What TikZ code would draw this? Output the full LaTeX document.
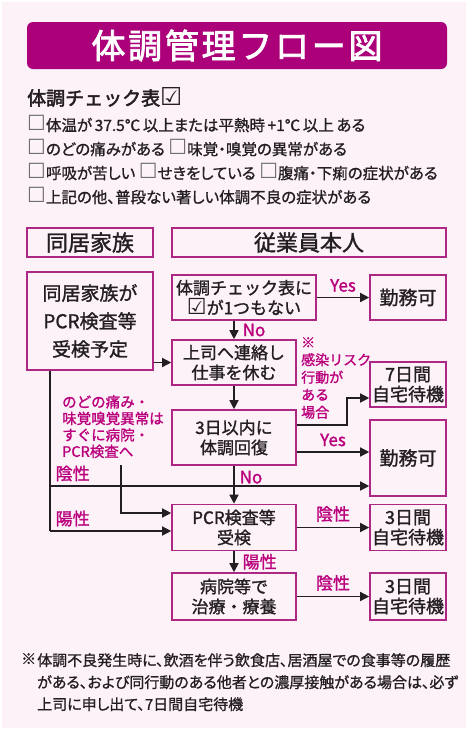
\documentclass[tikz,border=0pt]{standalone}
\usepackage{fontspec}
\setmainfont{Noto Sans CJK JP}[FakeBold=1.3]
\newfontfamily\heavyfont{Noto Sans CJK JP}[FakeBold=2.4]
\newfontfamily\propfont{Noto Sans CJK JP}[FakeBold=1.0, RawFeature=+palt]
\newfontfamily\symfont{DejaVu Sans}
\usetikzlibrary{arrows.meta, positioning, calc}
\definecolor{myplum}{RGB}{172,0,122}
\definecolor{myedge}{RGB}{172,40,132}
\definecolor{mylabel}{RGB}{186,0,124}
\definecolor{mydark}{RGB}{35,30,35}
\definecolor{mybg}{RGB}{252,242,248}
\definecolor{mygrey}{RGB}{110,110,110}
\newcommand{\fs}[2]{\fontsize{#1}{#2}\selectfont}
\newcommand{\chk}{{\symfont\fontsize{1.3em}{1em}\selectfont\char"2611}}
\newcommand{\cbx}{{\color{mygrey}\symfont\fontsize{1.35em}{1em}\selectfont\char"2610}}
\tikzset{
  flowbox/.style={rectangle, draw=myedge, line width=1.6pt, inner sep=0pt,
    align=center, text=mydark},
  hdrbox/.style={flowbox, minimum height=29pt, font=\fs{22}{26}},
  stepbox/.style={flowbox, minimum width=124pt, minimum height=46pt, font=\fs{17}{20}},
  endbox/.style={flowbox, minimum width=76pt, minimum height=46pt, font=\fs{18}{20}},
  note/.style={text=mylabel, align=left, inner sep=0pt, font=\fs{14}{17.5}},
  lbl/.style={text=mylabel, inner sep=0pt, font=\fs{17}{20}},
  listitem/.style={anchor=west, inner sep=0pt, text=mydark, font=\propfont\fs{15.5}{18}},
  arrow/.style={-{Triangle[length=9pt,width=9pt]}, line width=1.4pt, color=mydark},
  line/.style={line width=1.4pt, color=mydark}
}

\begin{document}
\begin{tikzpicture}[x=1pt, y=-1pt]
  \useasboundingbox (0,0) rectangle (474,732);
  \fill[white] (0,0) rectangle (474,732);
  \fill[mybg] (2,2) rectangle (466,728);

  % Title and check list
  \node[fill=myplum, rounded corners=6pt, minimum width=420pt, minimum height=47pt,
    text=white, font=\heavyfont\fs{34}{40}\addfontfeatures{LetterSpace=8}] (title) at (237,45.5) {体調管理フロー図};
  \node[anchor=west, inner sep=0pt, font=\heavyfont\fs{19}{22}, text=mydark] (chkhead) at (27,97) {体調チェック表\chk};
  \node[listitem] (item1) at (27,124) {\cbx 体温が\,37.5℃\,以上または平熱時\,+1℃\,以上\,ある};
  \node[listitem] (item2) at (27,148) {\cbx のどの痛みがある \cbx 味覚・嗅覚の異常がある};
  \node[listitem] (item3) at (27,172) {\cbx 呼吸が苦しい \cbx せきをしている \cbx 腹痛・下痢の症状がある};
  \node[listitem] (item4) at (27,196) {\cbx 上記の他、普段ない著しい体調不良の症状がある};

  % Headers
  \node[hdrbox, minimum width=126pt] (famhdr) at (90,242.5) {同居家族};
  \node[hdrbox, minimum width=274pt] (selfhdr) at (309,242.5) {従業員本人};

  % Flow boxes
  \node[flowbox, minimum width=126pt, minimum height=98pt, font=\fs{19}{28}] (famplan) at (90,321) {同居家族が\\PCR検査等\\受検予定};
  \node[stepbox, minimum width=144pt, minimum height=45pt] (check) at (244,297.5) {体調チェック表に\\\chk が1つもない};
  \node[endbox, minimum height=45pt, font=\fs{19}{22}] (ok1) at (408,297.5) {勤務可};
  \node[stepbox, minimum height=45pt] (report) at (234,362.5) {上司へ連絡し\\仕事を休む};
  \node[endbox, minimum height=45pt] (stay7) at (408,384.5) {7日間\\自宅待機};
  \node[stepbox, minimum height=55pt] (recover) at (234,437.5) {3日以内に\\体調回復};
  \node[endbox, minimum height=76pt, font=\fs{19}{22}] (ok2) at (408,458) {勤務可};
  \node[stepbox] (pcr) at (234,527.5) {PCR検査等\\受検};
  \node[endbox] (wait3a) at (408,527.5) {3日間\\自宅待機};
  \node[stepbox, minimum height=47pt] (hosp) at (234,596.5) {病院等で\\治療・療養};
  \node[endbox, minimum height=47pt] (wait3b) at (408,596.5) {3日間\\自宅待機};

  % Notes
  \node[note, anchor=north west] (risknote) at (301,337) {※\\感染リスク\\行動が\\ある\\場合};
  \node[note, font=\fs{14.5}{16.5}, anchor=north west] (throatnote) at (62,395) {のどの痛み・\\味覚嗅覚異常は\\すぐに病院・\\PCR検査へ};

  % Connectors
  \draw[arrow] (check) -- (ok1) node[midway, above=5pt, lbl] {Yes};
  \draw[arrow] (check.south -| report) -- (report) node[midway, right=8pt, lbl] {No};
  \draw[arrow] (famplan.east |- report) -- (report);
  \draw[arrow] (report) -- (recover);
  \coordinate (riskout) at ($(recover.east)+(0,-12.5)$);
  \coordinate (riskbend) at (347,398);
  \draw[arrow] (riskout) -| (riskbend) -- (riskbend -| stay7.west);
  \coordinate (yesout) at ($(recover.east)+(0,14.5)$);
  \draw[arrow] (yesout) -- (yesout -| ok2.west) node[midway, above=5pt, lbl] {Yes};
  \draw[arrow] (recover) -- (pcr) node[pos=0.3, right=5pt, lbl] {No};
  \coordinate (negrow) at (50,486);
  \coordinate (posrow) at (50,531);
  \draw[line] (famplan.south -| negrow) -- (posrow);
  \draw[arrow] (negrow) -- (negrow -| ok2.west) node[pos=0, above right=4pt and 5pt, lbl] {陰性};
  \draw[arrow] (posrow) -- (posrow -| pcr.west) node[pos=0, above right=4pt and 5pt, lbl] {陽性};
  \coordinate (notedrop) at (121,465);
  \coordinate (pcrin) at ($(pcr.west)+(0,-14.5)$);
  \draw[arrow] (notedrop) |- (pcrin);
  \draw[arrow] (pcr) -- (wait3a) node[midway, above=5pt, lbl] {陰性};
  \draw[arrow] (pcr) -- (hosp) node[midway, right=8pt, lbl] {陽性};
  \draw[arrow] (hosp) -- (wait3b) node[midway, above=5pt, lbl] {陰性};

  % Footnote
  \node[anchor=north west, inner sep=0pt, font=\propfont\fs{15}{22}, text=mydark] (footmark) at (21,653) {※};
  \node[anchor=north west, inner sep=0pt, align=left, font=\propfont\fs{15}{22}, text=mydark] (foottext) at (37,653)
    {体調不良発生時に、飲酒を伴う飲食店、居酒屋での食事等の履歴\\がある、および同行動のある他者との濃厚接触がある場合は、必ず\\上司に申し出て、7日間自宅待機};
\end{tikzpicture}
\end{document}
